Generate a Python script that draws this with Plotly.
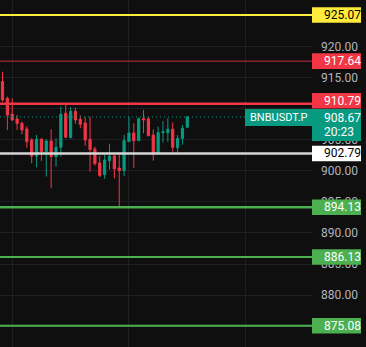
import plotly.graph_objects as go

# ---- data ----
opens = [914.35, 911.66, 909.14, 908.34, 907.64, 906.73, 904.96, 902.38, 905.07, 903.08,
         904.80, 902.28, 903.78, 909.25, 905.33, 909.58, 908.30, 907.70, 905.07, 903.50,
         901.25, 899.40, 901.63, 902.38, 900.45, 900.03, 904.69, 906.08, 904.85, 908.40,
         908.36, 905.76, 902.86, 906.14, 906.14, 906.70, 903.70, 905.22, 907.00]
highs = [915.95, 911.93, 911.66, 908.98, 907.91, 907.21, 905.23, 905.76, 905.23, 905.07,
         906.67, 905.23, 910.32, 910.59, 910.25, 910.15, 908.90, 908.71, 908.71, 903.88,
         902.38, 902.60, 904.35, 902.55, 902.55, 905.76, 908.63, 907.64, 908.57, 909.79,
         908.70, 906.67, 907.10, 908.00, 908.45, 907.80, 905.76, 907.37, 908.82]
lows = [911.13, 906.57, 908.02, 906.57, 905.87, 903.73, 901.20, 900.56, 901.58, 899.06,
        897.18, 900.67, 902.28, 905.33, 905.23, 907.58, 906.84, 904.00, 899.86, 900.85,
        899.00, 898.70, 900.18, 898.79, 894.25, 899.17, 904.69, 900.48, 904.85, 906.03,
        905.60, 901.63, 902.81, 904.55, 904.69, 903.08, 902.81, 904.20, 907.00]
closes = [911.40, 908.98, 908.18, 907.64, 906.57, 904.69, 902.38, 905.07, 903.08, 904.80,
          902.28, 903.78, 909.09, 905.40, 909.58, 908.17, 907.50, 904.95, 903.40, 901.15,
          899.25, 901.74, 902.33, 900.32, 900.03, 904.85, 906.08, 904.85, 908.36, 908.17,
          905.63, 902.76, 906.14, 906.30, 906.70, 903.78, 905.22, 906.84, 908.67]
bar_index = list(range(len(opens)))

levels = [925.07, 917.64, 910.79, 902.79, 894.13, 886.13, 875.08]
level_box_colors = ['#ffeb3b', '#f23645', '#f23645', '#ffffff', '#4caf50', '#4caf50', '#4caf50']
level_line_colors = ['#ffeb3b', '#c7303d', '#f23645', '#d6d6d6', '#4caf50', '#4caf50', '#4caf50']
level_text_colors = ['#000000', '#ffffff', '#ffffff', '#000000', '#ffffff', '#ffffff', '#ffffff']
level_widths = [2.2, 1, 2.6, 2.6, 2.4, 2, 2]
level_label_shift = [0, 0, 3, 0, 0, 0, 0]

# visible price-scale labels (925, 910 and 875 are hidden behind level labels)
price_ticks = [920, 915, 905, 900, 895, 890, 885, 880]

symbol = 'BNBUSDT.P'
last_price = closes[-1]
countdown = '20:23'
grid_x = [2, 26, 50]

# ---- layout constants ----
W, H = 366, 347
R_MARGIN = 54
PLOT_W = W - R_MARGIN
Y_RANGE = [871.65, 927.48]
X_RANGE = [-0.514, 63.64]
ppu = H / (Y_RANGE[1] - Y_RANGE[0])
BOX_W = 49 / PLOT_W

BG = '#0f0f0f'
GRID = '#1f2025'
UP = '#089981'
DOWN = '#f23645'
FONT = 'Roboto'

fig = go.Figure()
fig.add_trace(go.Candlestick(
    x=bar_index, open=opens, high=highs, low=lows, close=closes,
    increasing=dict(line=dict(color=UP, width=1), fillcolor=UP),
    decreasing=dict(line=dict(color=DOWN, width=1), fillcolor=DOWN),
    whiskerwidth=0, hoverinfo='skip', showlegend=False,
))

shapes = []
annotations = []

# dotted last-price line
shapes.append(dict(type='line', xref='paper', yref='y', x0=0, x1=245 / PLOT_W,
                   y0=last_price, y1=last_price,
                   line=dict(color=UP, width=1, dash='1px,3px')))

for lv, lc, lw in zip(levels, level_line_colors, level_widths):
    shapes.append(dict(type='line', xref='paper', yref='y', x0=0, x1=1, y0=lv, y1=lv,
                       line=dict(color=lc, width=lw)))

for lv, bc, tc, sh in zip(levels, level_box_colors, level_text_colors, level_label_shift):
    off = sh / ppu
    shapes.append(dict(type='rect', xref='paper', yref='y', x0=1, x1=1 + BOX_W,
                       y0=lv + off - 7.8 / ppu, y1=lv + off + 7.8 / ppu,
                       fillcolor=bc, line=dict(width=0)))
    annotations.append(dict(text=f'{lv:.2f}', xref='paper', yref='y', x=1, y=lv,
                            xanchor='left', yanchor='middle', xshift=9.5, yshift=sh,
                            showarrow=False, font=dict(family=FONT, size=12, color=tc)))

# last price box + countdown
shapes.append(dict(type='rect', xref='paper', yref='y', x0=1, x1=1 + BOX_W,
                   y0=last_price - 24 / ppu, y1=last_price + 8 / ppu,
                   fillcolor=UP, line=dict(width=0)))
annotations.append(dict(text=f'{last_price:.2f}', xref='paper', yref='y', x=1, y=last_price,
                        xanchor='left', yanchor='middle', xshift=9.5, yshift=-1,
                        showarrow=False, font=dict(family=FONT, size=12, color='#ffffff')))
annotations.append(dict(text=countdown, xref='paper', yref='y', x=1, y=last_price,
                        xanchor='left', yanchor='middle', xshift=9.5, yshift=-15,
                        showarrow=False, font=dict(family=FONT, size=12, color='#ffffff')))

# symbol box
shapes.append(dict(type='rect', xref='paper', yref='y', x0=245 / PLOT_W, x1=1,
                   y0=last_price - 9 / ppu, y1=last_price + 8 / ppu,
                   fillcolor=UP, line=dict(width=0)))
annotations.append(dict(text=symbol, xref='paper', yref='y', x=(245 + PLOT_W) / 2 / PLOT_W,
                        y=last_price, xanchor='center', yanchor='middle', yshift=-0.5,
                        showarrow=False, font=dict(family=FONT, size=11, color='#ffffff')))

fig.update_layout(
    width=W, height=H,
    margin=dict(l=0, r=R_MARGIN, t=0, b=0, pad=0),
    paper_bgcolor=BG, plot_bgcolor=BG,
    boxgap=0.35,
    shapes=shapes, annotations=annotations,
    xaxis=dict(range=X_RANGE, rangeslider=dict(visible=False), tickvals=grid_x,
               showticklabels=False, showgrid=True, gridcolor=GRID, gridwidth=1,
               zeroline=False, showline=False, ticks=''),
    yaxis=dict(range=Y_RANGE, side='right', tickvals=price_ticks, tickformat='.2f',
               showgrid=True, gridcolor=GRID, gridwidth=1, zeroline=False, showline=False,
               ticks='', ticklabelstandoff=8,
               minor=dict(tick0=875, dtick=5, showgrid=True, gridcolor=GRID, gridwidth=1,
                          ticks=''),
               tickfont=dict(family=FONT, size=12, color='#b2b5be')),
    font=dict(family=FONT),
)

fig.write_html('out.html')
